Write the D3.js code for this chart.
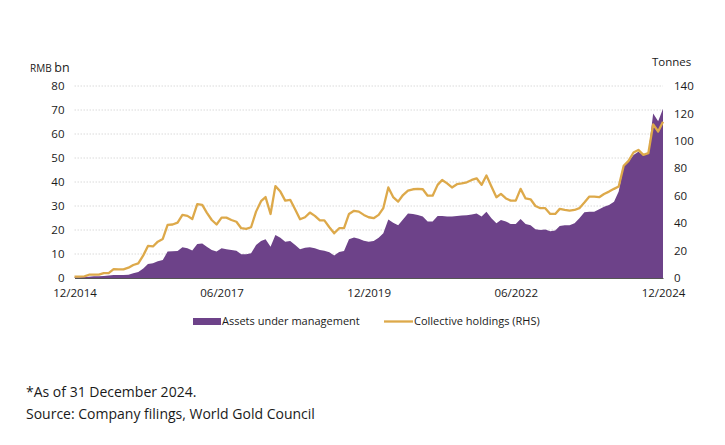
<!DOCTYPE html>
<html>
<head>
<meta charset="utf-8">
<script src="https://cdn.jsdelivr.net/npm/d3@7"></script>
<style>
  body { margin: 0; background: #fff; font-family: "Open Sans", "Noto Sans", sans-serif; }
  svg text { font-family: "Open Sans", "Noto Sans", sans-serif; fill: #1a1a1a; }
</style>
</head>
<body>
<div id="chart"></div>
<script>
// monthly data, 12/2014 .. 12/2024
const startMonth = new Date(2014, 11, 1);

// Assets under management, RMB bn
const aum = [
  0.3, 0.3, 0.4, 0.5, 0.7, 0.7, 0.8, 1.0, 1.2, 1.3, 1.3, 1.4,
  2.0, 2.5, 4.0, 5.8, 6.1, 7.0, 7.5, 11.0, 11.1, 11.2, 12.8, 12.4,
  11.5, 14.2, 14.4, 13.0, 11.7, 11.0, 12.4, 12.0, 11.7, 11.4, 9.9, 9.9,
  10.3, 13.7, 15.4, 16.1, 13.0, 17.9, 16.8, 15.1, 15.4, 13.7, 12.0, 12.6,
  12.8, 12.4, 11.7, 11.4, 10.7, 9.4, 10.8, 11.2, 16.1, 16.9, 16.4, 15.5,
  15.1, 15.4, 16.8, 18.6, 24.4, 23.0, 22.0, 24.4, 26.9, 26.7, 26.2, 25.6,
  23.5, 23.5, 25.8, 25.8, 25.6, 25.6, 25.8, 26.0, 26.1, 26.5, 26.9, 25.6,
  27.6, 24.9, 22.8, 24.2, 23.5, 22.5, 22.5, 24.6, 22.5, 22.0, 20.3, 20.0,
  20.2, 19.5, 19.8, 21.7, 22.0, 22.0, 22.8, 24.9, 27.4, 27.6, 27.6, 28.6,
  29.7, 30.4, 31.8, 36.0, 46.7, 48.5, 51.3, 52.6, 51.3, 52.2, 68.5, 65.3,
  70.5
];

// Collective holdings, tonnes (RHS)
const holdings = [
  1.0, 1.0, 1.2, 2.4, 2.4, 2.4, 3.6, 3.6, 6.5, 6.3, 6.3, 7.5,
  9.5, 10.7, 16.5, 23.4, 23.0, 26.5, 28.5, 38.7, 39.0, 40.4, 46.0, 45.3,
  43.0, 53.8, 53.3, 47.7, 42.3, 39.0, 44.0, 44.0, 42.3, 41.0, 36.3, 35.8,
  37.0, 48.4, 56.0, 59.0, 46.7, 67.0, 63.0, 56.4, 57.0, 50.0, 42.8, 44.3,
  47.7, 45.3, 42.0, 42.0, 37.0, 32.6, 36.3, 36.3, 46.7, 49.0, 48.4, 46.0,
  44.3, 43.6, 46.0, 51.0, 66.0, 59.0, 55.7, 60.5, 63.7, 64.7, 65.0, 64.7,
  60.0, 60.0, 67.9, 71.5, 69.0, 66.0, 68.4, 69.0, 69.8, 71.5, 72.7, 67.9,
  74.7, 66.7, 58.9, 61.3, 58.0, 56.4, 56.4, 65.0, 58.0, 57.4, 52.5, 50.9,
  50.9, 46.7, 46.7, 50.4, 49.6, 49.1, 49.6, 50.9, 55.0, 59.4, 59.4, 58.9,
  61.3, 63.0, 65.0, 66.7, 81.8, 85.4, 91.5, 93.4, 89.8, 91.0, 112.0, 106.8,
  114.0
];

const leftTicks = [0, 10, 20, 30, 40, 50, 60, 70, 80];
const rightTicks = [0, 20, 40, 60, 80, 100, 120, 140];
const xTickLabels = ["12/2014", "06/2017", "12/2019", "06/2022", "12/2024"];

const purple = "#6d4289";
const gold = "#dda94a";

const W = 725, H = 445;
const margin = { top: 86, right: 62, bottom: 167, left: 74.5 };
const width = W - margin.left - margin.right;
const height = H - margin.top - margin.bottom;

const data = aum.map((v, i) => ({
  date: d3.timeMonth.offset(startMonth, i),
  aum: v,
  tonnes: holdings[i]
}));

const svg = d3.select("#chart").append("svg")
  .attr("width", W)
  .attr("height", H);

const g = svg.append("g")
  .attr("transform", `translate(${margin.left},${margin.top})`);

const x = d3.scaleTime()
  .domain(d3.extent(data, d => d.date))
  .range([0, width]);

const yL = d3.scaleLinear().domain([0, 80]).range([height, 0]);
const yR = d3.scaleLinear().domain([0, 140]).range([height, 0]);

// gridlines
g.append("g")
  .selectAll("line")
  .data(leftTicks.filter(d => d > 0))
  .join("line")
  .attr("x1", 0)
  .attr("x2", width)
  .attr("y1", d => yL(d))
  .attr("y2", d => yL(d))
  .attr("stroke", "#d0d0d0")
  .attr("stroke-width", 0.8)
  .attr("stroke-dasharray", "1.5,1.5");

// area
const area = d3.area()
  .x(d => x(d.date))
  .y0(yL(0))
  .y1(d => yL(d.aum));

g.append("path")
  .datum(data)
  .attr("fill", purple)
  .attr("d", area);

// line
const line = d3.line()
  .x(d => x(d.date))
  .y(d => yR(d.tonnes));

g.append("path")
  .datum(data)
  .attr("fill", "none")
  .attr("stroke", gold)
  .attr("stroke-width", 2.3)
  .attr("stroke-linejoin", "round")
  .attr("d", line);

// axes
const leftAxis = g.append("g")
  .call(d3.axisLeft(yL).tickValues(leftTicks).tickSize(0).tickPadding(10));
leftAxis.select(".domain").remove();
leftAxis.selectAll("text").style("font-size", "11.5px").attr("fill", "#1a1a1a");

const rightAxis = g.append("g")
  .attr("transform", `translate(${width},0)`)
  .call(d3.axisRight(yR).tickValues(rightTicks).tickSize(0).tickPadding(11));
rightAxis.select(".domain").remove();
rightAxis.selectAll("text").style("font-size", "11.5px").attr("fill", "#1a1a1a");

const parseLabel = d3.timeParse("%m/%Y");
const xTicks = xTickLabels.map(parseLabel);
const bottomAxis = g.append("g")
  .attr("transform", `translate(0,${height})`)
  .call(d3.axisBottom(x).tickValues(xTicks).tickSize(0).tickPadding(11)
    .tickFormat(d3.timeFormat("%m/%Y")));
bottomAxis.select(".domain").attr("stroke", "#555").attr("stroke-width", 1);
bottomAxis.selectAll("text").style("font-size", "11.5px").attr("fill", "#1a1a1a");

// axis titles
const leftTitle = svg.append("text")
  .attr("x", 30)
  .attr("y", 72);
leftTitle.append("tspan").style("font-size", "10px").text("RMB ");
leftTitle.append("tspan").style("font-size", "12.5px").text("bn");

svg.append("text")
  .attr("x", 652)
  .attr("y", 66)
  .style("font-size", "11.5px")
  .text("Tonnes");

// legend
const legend = svg.append("g");
legend.append("rect")
  .attr("x", 193).attr("y", 318)
  .attr("width", 28).attr("height", 7)
  .attr("fill", purple);
legend.append("text")
  .attr("x", 222).attr("y", 325)
  .style("font-size", "11px")
  .text("Assets under management");
legend.append("line")
  .attr("x1", 384).attr("x2", 413)
  .attr("y1", 321.5).attr("y2", 321.5)
  .attr("stroke", gold).attr("stroke-width", 2.3);
legend.append("text")
  .attr("x", 414).attr("y", 325)
  .style("font-size", "11px")
  .text("Collective holdings (RHS)");

// footnotes
svg.append("text")
  .attr("x", 26).attr("y", 397)
  .style("font-size", "14px")
  .text("*As of 31 December 2024.");
svg.append("text")
  .attr("x", 26).attr("y", 419)
  .style("font-size", "14px")
  .text("Source: Company filings, World Gold Council");
</script>
</body>
</html>
